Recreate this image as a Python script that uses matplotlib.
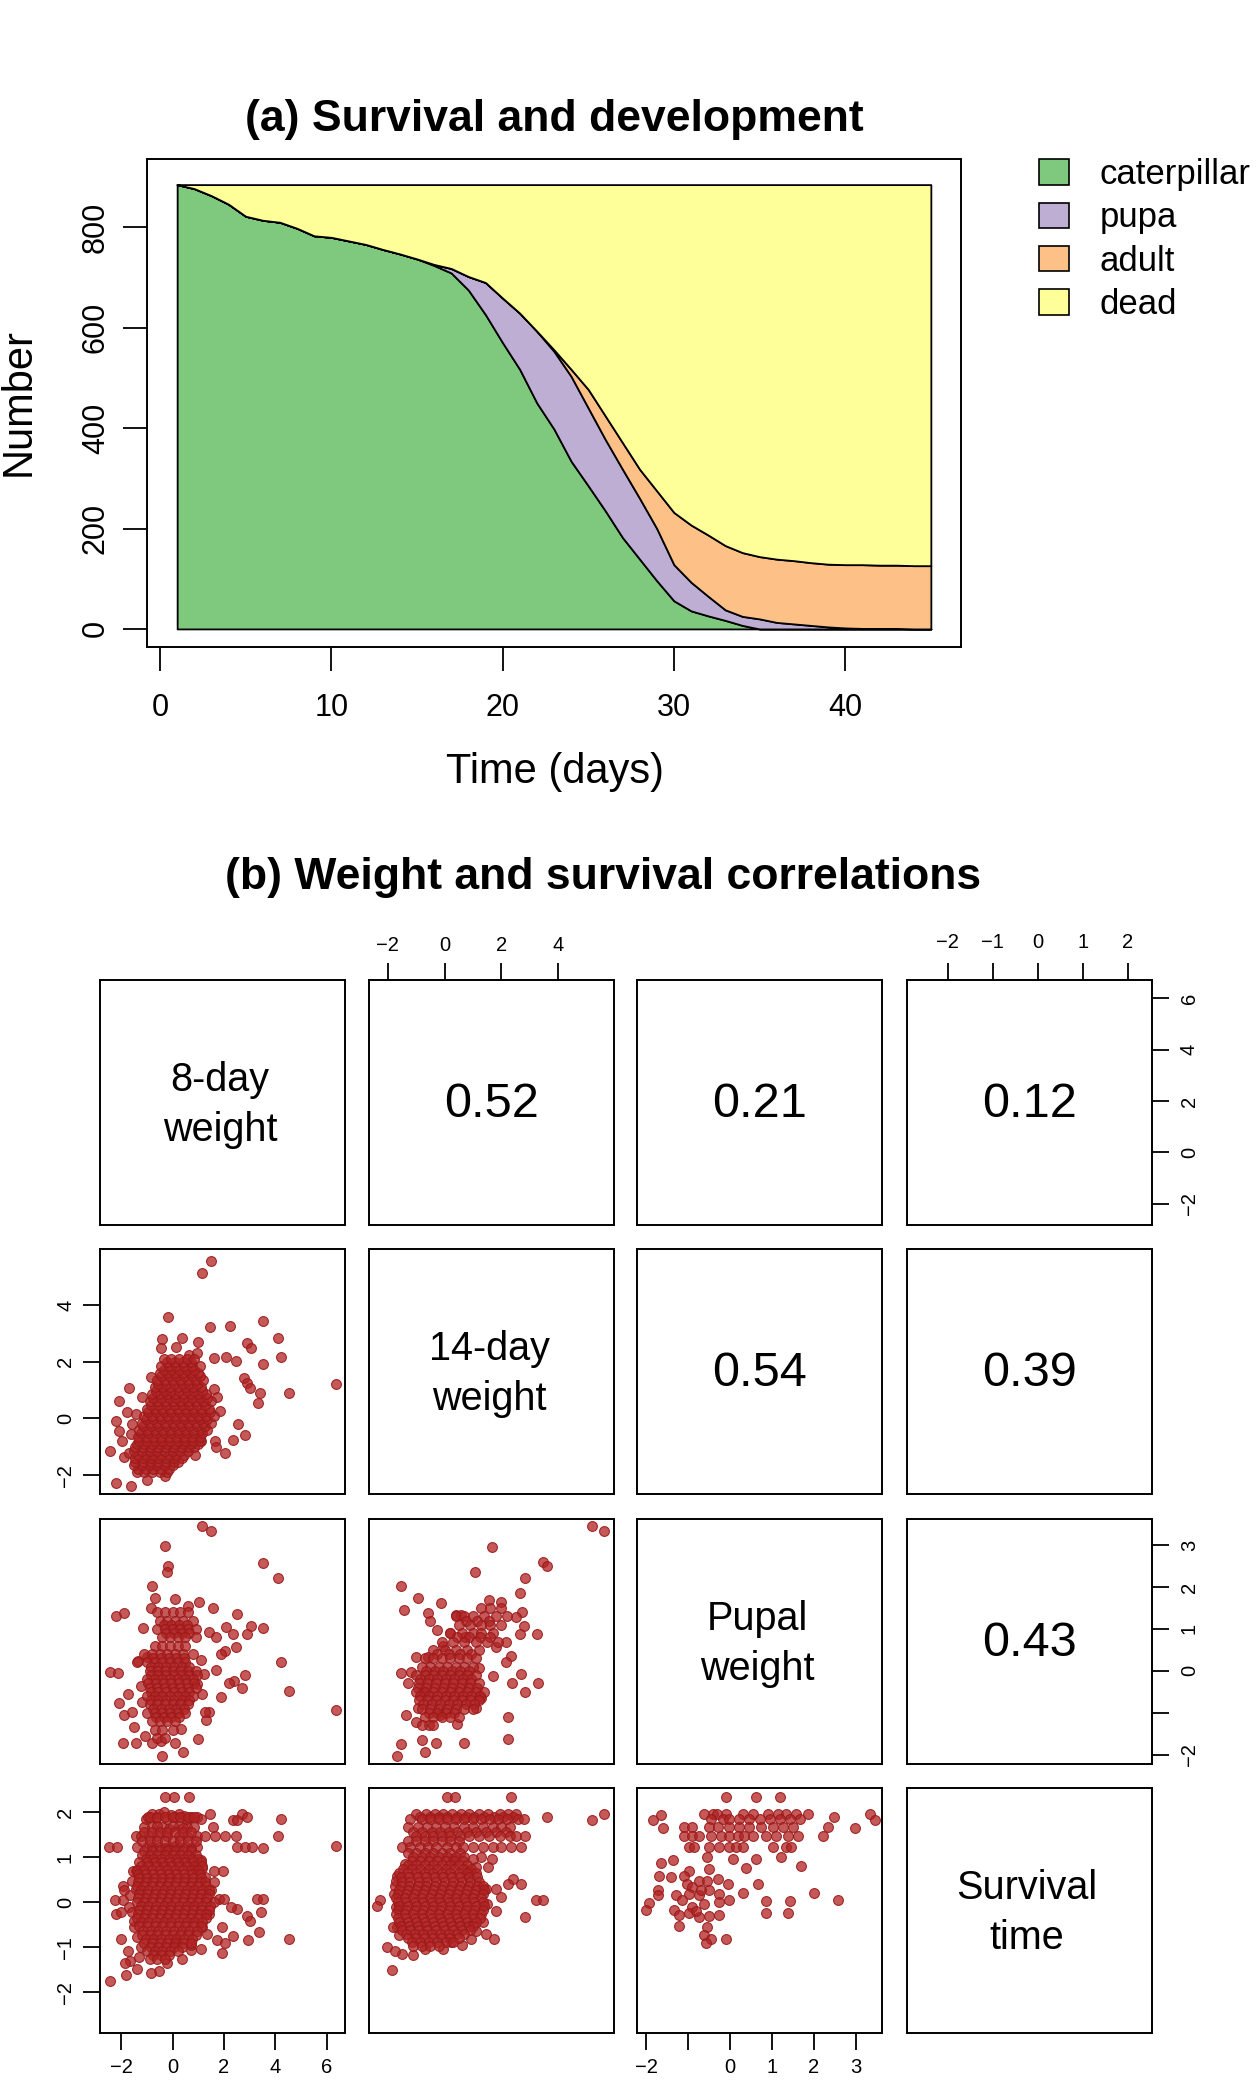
import numpy as np
import matplotlib
matplotlib.use('Agg')
import matplotlib.pyplot as plt
from matplotlib.patches import Patch

plt.rcParams['font.family'] = ['Liberation Sans', 'DejaVu Sans']

# ---------------- (a) survival and development ----------------
days = np.arange(1, 46)
caterpillar = [885, 877, 863, 846, 822, 814, 810, 798, 783, 780, 773, 766, 756, 747, 737,
               724, 709, 675, 626, 570, 517, 450, 398, 334, 285, 235, 182, 139, 96, 56,
               36, 26, 17, 7, 0, 0, 0, 0, 0, 0, 0, 0, 0, 0, 0]
pupa = [0] * 15 + [2, 9, 27, 64, 89, 112, 143, 155, 169, 155, 142, 136, 121, 104, 72,
                   57, 39, 21, 18, 20, 13, 10, 7, 4, 2, 1, 1, 1, 0, 0]
adult = [0] * 22 + [3, 14, 37, 47, 53, 58, 75, 104, 114, 122, 128, 127, 124, 126, 126,
                    125, 125, 126, 127, 126, 126, 126, 126]
total = 885
dead = total - np.array(caterpillar) - np.array(pupa) - np.array(adult)

stages = ['caterpillar', 'pupa', 'adult', 'dead']
stage_cols = ['#7FC97F', '#BEAED4', '#FDC086', '#FFFF99']

# ---------------- (b) pairs plot ----------------
var_names = ['8-day\nweight', '14-day\nweight', 'Pupal\nweight', 'Survival\ntime']
var_lims = [(-2.83, 6.72), (-2.66, 5.97), (-2.22, 3.62), (-2.91, 2.54)]
var_ticks = [[-2, 0, 2, 4, 6], [-2, 0, 2, 4], [-2, -1, 0, 1, 2, 3], [-2, -1, 0, 1, 2]]
var_ticklabels = [['\u22122', '0', '2', '4', '6'], ['\u22122', '0', '2', '4'],
                  ['\u22122', '', '0', '1', '2', '3'], ['\u22122', '\u22121', '0', '1', '2']]
corr_text = {(0, 1): '0.52', (0, 2): '0.21', (0, 3): '0.12',
             (1, 2): '0.54', (1, 3): '0.39', (2, 3): '0.43'}

# 14-day weight vs 8-day weight
p21_pts = [(1.48, 5.55), (1.15, 5.11), (-0.16, 3.57), (1.44, 3.22), (2.22, 3.26), (3.53, 3.44),
           (4.11, 2.82), (4.24, 2.15), (3.51, 1.93), (6.37, 1.20), (4.54, 0.91), (3.33, 0.53),
           (2.91, 2.65), (3.07, 2.47), (-0.43, 2.79), (0.38, 2.85), (0.99, 2.71), (-1.71, 1.06),
           (-2.10, 0.62), (-1.76, 0.23), (-2.19, -0.08), (-2.09, -0.45), (-2.44, -1.15),
           (-2.22, -2.26), (-1.63, -2.37), (-1.01, -2.17), (-0.31, -2.01), (2.04, -1.20),
           (2.81, -0.58), (2.36, -0.75), (2.53, -0.20), (3.40, 0.91), (2.78, 1.43), (2.48, 2.01),
           (2.09, 2.15), (1.61, 2.13), (-0.86, 1.46), (-1.18, 0.77), (-1.57, -0.20), (-1.96, -0.78),
           (-1.89, -1.36), (-0.47, 2.47), (0.12, 2.53), (0.64, 2.24), (0.96, 2.30), (1.67, -0.78),
           (1.71, -1.01), (0.89, -1.30), (1.09, -0.78), (2.91, 1.25), (3.03, 1.08),
           (-1.44, 0.15), (-1.62, -0.55), (-1.7, -1.2), (1.85, 0.25), (1.75, 0.75), (1.6, 1.05)]
p21_core = [(-1.9, [-1.4, -1.1, -0.8, -0.5, -0.2]),
            (-1.78, [-1.35, -1.05, -0.75, -0.45, -0.15]),
            (-1.65, [-1.5, -1.2, -0.9, -0.6, -0.3, 0.0]),
            (-1.52, [-1.45, -1.15, -0.85, -0.55, -0.25, 0.05, 0.2]),
            (-1.4, [-1.45, -1.15, -0.85, -0.55, -0.25, 0.05, 0.35]),
            (-1.28, [-1.35, -1.05, -0.75, -0.45, -0.15, 0.15, 0.45]),
            (-1.15, [-1.5, -1.2, -0.9, -0.6, -0.3, 0.0, 0.3, 0.6]),
            (-1.02, [-1.45, -1.15, -0.85, -0.55, -0.25, 0.05, 0.35, 0.65, 0.85]),
            (-0.9, [-1.4, -1.1, -0.8, -0.5, -0.2, 0.1, 0.4, 0.7, 1.0]),
            (-0.78, [-1.3, -1.0, -0.7, -0.4, -0.1, 0.2, 0.5, 0.8, 1.05]),
            (-0.65, [-1.35, -1.05, -0.75, -0.45, -0.15, 0.15, 0.45, 0.75, 1.05]),
            (-0.52, [-1.25, -0.95, -0.65, -0.35, -0.05, 0.25, 0.55, 0.85, 1.15]),
            (-0.4, [-1.3, -1.0, -0.7, -0.4, -0.1, 0.2, 0.5, 0.8, 1.1, 1.35]),
            (-0.28, [-1.15, -0.85, -0.55, -0.25, 0.05, 0.35, 0.65, 0.95, 1.25]),
            (-0.15, [-1.2, -0.9, -0.6, -0.3, 0.0, 0.3, 0.6, 0.9, 1.2, 1.5]),
            (-0.02, [-1.05, -0.75, -0.45, -0.15, 0.15, 0.45, 0.75, 1.05, 1.35]),
            (0.1, [-1.1, -0.8, -0.5, -0.2, 0.1, 0.4, 0.7, 1.0, 1.3, 1.6]),
            (0.22, [-0.95, -0.65, -0.35, -0.05, 0.25, 0.55, 0.85, 1.15, 1.45]),
            (0.35, [-1.0, -0.7, -0.4, -0.1, 0.2, 0.5, 0.8, 1.1, 1.4]),
            (0.48, [-0.85, -0.55, -0.25, 0.05, 0.35, 0.65, 0.95, 1.25]),
            (0.6, [-0.9, -0.6, -0.3, 0.0, 0.3, 0.6, 0.9, 1.2, 1.5]),
            (0.72, [-0.75, -0.45, -0.15, 0.15, 0.45, 0.75, 1.05, 1.35]),
            (0.85, [-0.8, -0.5, -0.2, 0.1, 0.4, 0.7, 1.0, 1.3]),
            (0.98, [-0.65, -0.35, -0.05, 0.25, 0.55, 0.85, 1.15]),
            (1.1, [-0.7, -0.4, -0.1, 0.2, 0.5, 0.8, 1.1]),
            (1.22, [-0.55, -0.25, 0.05, 0.35, 0.65, 0.95]),
            (1.35, [-0.6, -0.3, 0.0, 0.3, 0.6, 0.9, 1.2]),
            (1.48, [-0.45, -0.15, 0.15, 0.45, 0.75, 1.05]),
            (1.6, [-0.5, -0.2, 0.1, 0.4, 0.7, 1.0]),
            (1.72, [-0.35, -0.05, 0.25, 0.55, 0.85]),
            (1.85, [-0.45, -0.15, 0.15, 0.45, 0.75, 1.05]),
            (1.98, [-0.2, 0.1, 0.4, 0.7]),
            (2.1, [-0.35, -0.05, 0.25, 0.55, 0.85])]

# pupal weight vs 8-day weight
p31_pts = [(1.13, 3.45), (1.48, 3.33), (-0.29, 2.98), (-0.16, 2.50), (-0.21, 2.35), (3.51, 2.58),
           (4.11, 2.21), (-0.79, 2.03), (-0.69, 1.73), (0.08, 1.71), (0.60, 1.55), (1.02, 1.65),
           (1.58, 1.50), (2.52, 1.35), (-2.20, 1.30), (-1.89, 1.38), (-0.86, 1.49), (2.10, 1.05),
           (3.06, 1.07), (3.51, 1.01), (2.91, 0.87), (2.35, 0.87), (1.43, 0.92), (1.71, 0.81),
           (-1.17, 1.03), (2.48, 0.56), (2.06, 0.48), (1.87, 0.40), (4.23, 0.22), (-2.43, -0.02),
           (-2.13, -0.06), (-1.34, 0.24), (1.69, 0.02), (2.84, -0.11), (2.41, -0.23), (2.19, -0.28),
           (2.71, -0.40), (4.53, -0.48), (6.37, -0.93), (-1.75, -0.56), (-2.09, -0.76), (1.87, -0.62),
           (1.41, -0.97), (1.32, -1.17), (-1.89, -1.06), (-1.57, -0.97), (-1.50, -1.34),
           (-1.09, -1.55), (-1.95, -1.73), (-1.44, -1.73), (-0.79, -1.73), (-0.47, -1.67),
           (-0.40, -2.03), (0.09, -1.73), (0.42, -1.93), (0.99, -1.63), (0.34, -1.39), (1.28, -0.97),
           (-1.37, 0.20), (-0.99, 0.32), (1.22, -0.08), (0.96, -0.32),
           (-1.25, -0.35), (-1.2, -0.75), (1.15, -0.55), (1.1, 0.25)]
p31_core = [(1.4, [-0.6, -0.3, 0.0, 0.3, 0.6]),
            (1.2, [-0.5, -0.2, 0.1, 0.4, 0.8]),
            (1.1, [-0.35, -0.05, 0.25, 0.55]),
            (1.0, [-0.6, -0.3, 0.0, 0.3, 0.6, 0.9]),
            (0.9, [-0.25, 0.05, 0.35, 0.65]),
            (0.8, [-0.4, -0.1, 0.2, 0.5, 0.9]),
            (0.6, [-0.7, -0.4, -0.1, 0.2, 0.5]),
            (0.4, [-1.1, -0.8, -0.5, -0.2, 0.1, 0.4, 0.8]),
            (0.3, [-0.75, -0.45, -0.15, 0.15, 0.45]),
            (0.2, [-1.0, -0.7, -0.4, -0.1, 0.2, 0.5]),
            (0.1, [-0.85, -0.55, -0.25, 0.05, 0.35, 0.65]),
            (0.0, [-0.9, -0.6, -0.3, 0.0, 0.3, 0.6, 0.9]),
            (-0.1, [-0.85, -0.55, -0.25, 0.05, 0.35, 0.65, 0.95]),
            (-0.2, [-1.0, -0.7, -0.4, -0.1, 0.2, 0.5, 0.8]),
            (-0.3, [-0.95, -0.65, -0.35, -0.05, 0.25, 0.55, 0.85]),
            (-0.4, [-0.9, -0.6, -0.3, 0.0, 0.3, 0.6, 0.9]),
            (-0.5, [-0.85, -0.55, -0.25, 0.05, 0.35, 0.65]),
            (-0.6, [-1.0, -0.7, -0.4, -0.1, 0.2, 0.5, 0.8]),
            (-0.7, [-0.85, -0.55, -0.25, 0.05, 0.35, 0.65]),
            (-0.8, [-0.9, -0.6, -0.3, 0.0, 0.3, 0.6]),
            (-0.9, [-0.75, -0.45, -0.15, 0.15, 0.45]),
            (-1.0, [-1.0, -0.7, -0.4, -0.1, 0.2, 0.5]),
            (-1.1, [-0.65, -0.35, -0.05, 0.25]),
            (-1.2, [-0.8, -0.5, -0.2, 0.1]),
            (-1.4, [-0.7, -0.4, 0.0]),
            (-1.6, [-0.6, -0.3])]

# pupal weight vs 14-day weight
p32_pts = [(5.18, 3.46), (5.62, 3.33), (1.67, 2.96), (3.46, 2.59), (3.60, 2.50), (1.07, 2.35),
           (2.85, 2.22), (-1.55, 2.03), (-0.93, 1.73), (-1.43, 1.45), (-0.13, 1.61), (2.67, 1.85),
           (1.58, 1.69), (2.00, 1.65), (-0.58, 1.39), (-0.50, 1.18), (0.41, 1.32), (0.59, 1.32),
           (2.72, 1.41), (2.52, 1.29), (2.81, 1.08), (2.67, 0.87), (3.26, 0.89), (-0.26, 0.98),
           (0.18, 0.90), (0.72, 0.81), (2.17, 0.68), (-0.05, 0.60), (1.82, 0.56), (2.35, 0.35),
           (2.17, 0.20), (-0.99, 0.32), (-0.58, 0.32), (-1.52, -0.06), (-1.17, -0.02),
           (-1.28, -0.28), (2.70, -0.08), (2.38, -0.30), (3.30, -0.28), (2.85, -0.51), (1.70, -0.12),
           (1.23, 0.08), (-0.75, -0.48), (-0.93, -0.89), (-1.34, -1.06), (-1.01, -1.23),
           (-0.55, -1.29), (-0.80, -1.65), (-0.67, -1.93), (-0.31, -1.73), (-1.55, -1.75),
           (-1.66, -2.03), (0.69, -1.73), (2.23, -1.11), (2.23, -1.63), (0.44, -1.26),
           (-0.17, -1.05), (1.12, -0.89), (1.29, -0.64)]
p32_core = [(1.5, [1.3, 1.6, 2.0]),
            (1.3, [0.4, 0.7, 1.0, 1.4, 1.8, 2.2]),
            (1.2, [0.75, 1.15, 1.55]),
            (1.1, [0.5, 0.9, 1.3, 1.6, 2.0]),
            (0.9, [0.2, 0.6, 1.0, 1.3, 1.7]),
            (0.8, [0.45, 0.85, 1.25, 1.6]),
            (0.7, [-0.1, 0.3, 0.7, 1.1, 1.5, 1.9]),
            (0.5, [-0.4, 0.0, 0.4, 0.8, 1.2]),
            (0.4, [-0.25, 0.15, 0.55, 0.95]),
            (0.3, [-0.7, -0.4, -0.1, 0.2, 0.5, 0.8, 1.1]),
            (0.1, [-0.8, -0.5, -0.2, 0.1, 0.4, 0.7, 1.0]),
            (0.0, [-0.65, -0.35, -0.05, 0.25, 0.55, 0.85]),
            (-0.1, [-1.0, -0.7, -0.4, -0.1, 0.2, 0.5, 0.8, 1.1]),
            (-0.2, [-0.85, -0.55, -0.25, 0.05, 0.35, 0.65, 0.95]),
            (-0.3, [-0.9, -0.6, -0.3, 0.0, 0.3, 0.6, 0.9, 1.2]),
            (-0.4, [-0.95, -0.65, -0.35, -0.05, 0.25, 0.55, 0.85, 1.15]),
            (-0.5, [-1.0, -0.7, -0.4, -0.1, 0.2, 0.5, 0.8, 1.1, 1.4]),
            (-0.6, [-0.85, -0.55, -0.25, 0.05, 0.35, 0.65, 0.95, 1.25]),
            (-0.7, [-0.9, -0.6, -0.3, 0.0, 0.3, 0.6, 0.9, 1.2]),
            (-0.8, [-0.75, -0.45, -0.15, 0.15, 0.45, 0.75, 1.05]),
            (-0.9, [-0.8, -0.5, -0.2, 0.1, 0.4, 0.7, 1.0]),
            (-1.0, [-0.55, -0.25, 0.05, 0.35]),
            (-1.1, [-0.7, -0.4, -0.1, 0.2, 0.5]),
            (-1.3, [-0.8, -0.4])]

# survival time vs 8-day weight
p41_pts = [(-0.29, 2.35), (0.05, 2.35), (0.64, 2.35),
           (-1.05, 1.85), (-0.79, 1.96), (-0.53, 1.96), (-0.34, 2.0), (-0.08, 1.93), (0.25, 1.96),
           (0.70, 1.89), (0.96, 1.89), (1.09, 1.85), (1.45, 1.96), (2.36, 1.82), (2.52, 1.82),
           (2.72, 1.96), (2.91, 1.89), (4.23, 1.85), (-0.95, 1.9), (-0.65, 1.88), (-0.2, 1.86),
           (0.1, 1.9), (0.45, 1.92), (0.55, 1.85),
           (-1.12, 1.67), (-0.79, 1.67), (-0.40, 1.67), (-0.14, 1.63), (0.25, 1.70), (0.57, 1.67),
           (0.83, 1.67), (1.58, 1.67), (-0.6, 1.7), (0.0, 1.7), (0.4, 1.65),
           (-1.44, 1.48), (-1.25, 1.48), (-0.92, 1.48), (-0.6, 1.48), (-0.21, 1.48), (0.25, 1.48),
           (0.57, 1.48), (0.96, 1.48), (1.28, 1.48), (1.67, 1.48), (2.06, 1.48), (2.49, 1.48),
           (4.11, 1.48),
           (-2.48, 1.22), (-2.15, 1.22), (-1.37, 1.22), (-0.79, 1.22), (-0.53, 1.22), (-0.14, 1.22),
           (0.25, 1.22), (0.51, 1.22), (0.96, 1.22), (2.52, 1.22), (2.84, 1.22), (3.10, 1.22),
           (3.51, 1.2), (6.37, 1.25), (-1.0, 1.22), (-0.3, 1.2), (0.1, 1.24), (0.7, 1.2),
           (1.13, 0.76), (0.89, 0.76), (1.97, 0.69), (1.63, 0.44), (1.80, 0.07), (2.00, 0.07),
           (3.29, 0.06), (3.53, 0.06), (3.45, -0.22), (2.52, -0.15), (2.91, -0.30), (3.03, -0.41),
           (3.36, -0.67), (4.53, -0.81), (2.93, -0.85), (2.35, -0.76), (1.74, -0.85), (1.93, -1.13),
           (2.06, -0.91), (1.35, -0.70), (1.09, -1.04), (0.70, -1.07), (0.38, -1.26), (0.16, -0.89),
           (-0.23, -1.36), (-0.53, -1.53), (-0.86, -1.58), (-1.37, -1.48), (-1.31, -1.22),
           (-1.66, -1.30), (-1.85, -1.36), (-1.83, -1.63), (-2.45, -1.76), (-2.00, -0.81),
           (-1.74, -1.09), (-1.93, 0.35), (-1.89, 0.26), (-2.24, 0.05), (-1.92, 0.04),
           (-2.22, -0.27), (-2.02, -0.22), (-1.70, -0.11), (-1.57, -0.22), (-1.50, -0.56),
           (-1.44, 0.70), (-1.44, 0.30), (1.61, 0.70), (2.26, -0.11), (1.93, -0.56),
           (-1.53, 0.70), (-1.57, 0.48), (-1.66, 0.15), (-1.50, -0.41), (-1.37, -0.78),
           (-1.25, -1.0), (0.70, -0.96), (1.15, -0.56), (1.41, -0.26), (1.48, 0.26), (1.28, 0.56),
           (1.09, 0.93)]
p41_core = [(1.9, [-0.9, -0.6, -0.3, 0.0, 0.3, 0.6, 0.85]),
            (1.57, [-1.1, -0.8, -0.5, -0.2, 0.1, 0.4, 0.7]),
            (1.35, [-1.2, -0.9, -0.6, -0.3, 0.0, 0.3, 0.6, 0.9]),
            (1.13, [-1.1, -0.8, -0.5, -0.2, 0.1, 0.4, 0.7]),
            (1.05, [-1.2, -0.9, -0.6, -0.3, 0.0, 0.3, 0.6, 0.9]),
            (0.97, [-1.05, -0.75, -0.45, -0.15, 0.15, 0.45, 0.75, 1.0]),
            (0.9, [-1.3, -1.0, -0.7, -0.4, -0.1, 0.2, 0.5, 0.8, 1.1]),
            (0.81, [-1.25, -0.95, -0.65, -0.35, -0.05, 0.25, 0.55, 0.85, 1.15]),
            (0.72, [-1.4, -1.1, -0.8, -0.5, -0.2, 0.1, 0.4, 0.7, 1.0]),
            (0.63, [-1.35, -1.05, -0.75, -0.45, -0.15, 0.15, 0.45, 0.75, 1.05]),
            (0.54, [-1.3, -1.0, -0.7, -0.4, -0.1, 0.2, 0.5, 0.8, 1.1]),
            (0.45, [-1.35, -1.05, -0.75, -0.45, -0.15, 0.15, 0.45, 0.75, 1.05, 1.25]),
            (0.36, [-1.4, -1.1, -0.8, -0.5, -0.2, 0.1, 0.4, 0.7, 1.0, 1.3]),
            (0.27, [-1.25, -0.95, -0.65, -0.35, -0.05, 0.25, 0.55, 0.85, 1.15, 1.4]),
            (0.18, [-1.3, -1.0, -0.7, -0.4, -0.1, 0.2, 0.5, 0.8, 1.1, 1.4]),
            (0.09, [-1.35, -1.05, -0.75, -0.45, -0.15, 0.15, 0.45, 0.75, 1.05, 1.35]),
            (0.0, [-1.4, -1.1, -0.8, -0.5, -0.2, 0.1, 0.4, 0.7, 1.0, 1.3, 1.6]),
            (-0.09, [-1.25, -0.95, -0.65, -0.35, -0.05, 0.25, 0.55, 0.85, 1.15, 1.45]),
            (-0.18, [-1.3, -1.0, -0.7, -0.4, -0.1, 0.2, 0.5, 0.8, 1.1, 1.4]),
            (-0.27, [-1.35, -1.05, -0.75, -0.45, -0.15, 0.15, 0.45, 0.75, 1.05, 1.3]),
            (-0.36, [-1.4, -1.1, -0.8, -0.5, -0.2, 0.1, 0.4, 0.7, 1.0, 1.3]),
            (-0.45, [-1.25, -0.95, -0.65, -0.35, -0.05, 0.25, 0.55, 0.85, 1.15]),
            (-0.54, [-1.3, -1.0, -0.7, -0.4, -0.1, 0.2, 0.5, 0.8, 1.1]),
            (-0.63, [-1.15, -0.85, -0.55, -0.25, 0.05, 0.35, 0.65, 0.95]),
            (-0.72, [-1.2, -0.9, -0.6, -0.3, 0.0, 0.3, 0.6, 0.9]),
            (-0.81, [-1.05, -0.75, -0.45, -0.15, 0.15, 0.45, 0.75]),
            (-0.9, [-1.1, -0.8, -0.5, -0.2, 0.1, 0.4, 0.7]),
            (-0.99, [-0.85, -0.55, -0.25, 0.05, 0.35]),
            (-1.08, [-1.0, -0.7, -0.4, -0.1, 0.2]),
            (-1.17, [-0.75, -0.45, -0.15]),
            (-1.26, [-0.9, -0.6, -0.3])]

# survival time vs 14-day weight
p42_pts = [(0.09, 2.35), (0.36, 2.35), (2.35, 2.33), (3.61, 1.89), (5.18, 1.83), (5.62, 1.96),
           (0.30, 0.96), (1.29, 1.00), (1.68, 0.96), (1.53, 0.79), (1.12, 0.78), (0.88, 0.69),
           (2.40, 0.52), (2.25, 0.41), (2.70, 0.41), (3.22, 0.04), (3.46, 0.05), (2.85, -0.32),
           (1.82, 0.30), (2.00, 0.11), (1.82, -0.19), (-1.67, 0.59), (-1.75, 0.37), (-2.27, 0.04),
           (-2.37, -0.09), (1.47, -0.70), (1.76, -0.81), (0.94, -0.81), (0.24, -0.89),
           (-0.05, -1.04), (-1.10, -1.17), (-1.51, -1.15), (-2.04, -0.99), (-1.75, -1.09),
           (-1.86, -1.50), (-1.69, -0.56),
           (-1.71, 0.48), (-1.78, 0.19), (-1.71, -0.11), (-1.81, -0.56), (-1.6, -0.74),
           (1.45, 0.3), (1.5, -0.05), (1.35, -0.45), (1.1, -0.65), (0.6, -0.95), (-0.7, -1.05),
           (1.0, 0.95), (-1.4, 0.85)]
p42_core = [(1.96, [-0.99, -0.64, -0.35, -0.05, 0.25, 0.59, 0.88, 1.23, 1.53, 1.94, 2.23, 2.52]),
            (1.9, [-0.85, -0.5, -0.2, 0.1, 0.45, 0.75, 1.05, 1.4, 1.75, 2.05, 2.4]),
            (1.85, [-1.2, -0.8, -0.5, -0.2, 0.1, 0.4, 0.7, 1.0, 1.3, 1.6, 1.9, 2.2, 2.6, 2.8]),
            (1.67, [-1.28, -0.95, -0.6, -0.3, 0.0, 0.35, 0.7, 1.0, 1.35, 1.7, 2.0, 2.3]),
            (1.57, [-1.1, -0.8, -0.45, -0.15, 0.15, 0.45, 0.8, 1.1, 1.45, 1.8, 2.15]),
            (1.48, [-1.0, -0.7, -0.4, -0.1, 0.2, 0.53, 0.88, 1.23, 1.58, 1.94, 2.29, 2.52, 2.84]),
            (1.35, [-1.3, -1.0, -0.7, -0.4, -0.1, 0.2, 0.5]),
            (1.22, [-1.51, -1.22, -0.87, -0.58, -0.29, 0.07, 0.42, 0.65, 1.00, 1.35, 1.70, 1.99,
                    2.35, 2.70]),
            (1.1, [-1.3, -1.0, -0.7, -0.4, -0.1, 0.2, 0.55]),
            (1.0, [-1.1, -0.8, -0.5, -0.2, 0.1, 0.4, 0.7]),
            (0.91, [-1.15, -0.85, -0.55, -0.25, 0.05, 0.35, 0.65]),
            (0.82, [-1.3, -1.0, -0.7, -0.4, -0.1, 0.2, 0.5, 0.8]),
            (0.73, [-1.45, -1.15, -0.85, -0.55, -0.25, 0.05, 0.35, 0.65, 0.95]),
            (0.64, [-1.6, -1.3, -1.0, -0.7, -0.4, -0.1, 0.2, 0.5, 0.8, 1.1]),
            (0.55, [-1.55, -1.25, -0.95, -0.65, -0.35, -0.05, 0.25, 0.55, 0.85, 1.15]),
            (0.46, [-1.5, -1.2, -0.9, -0.6, -0.3, 0.0, 0.3, 0.6, 0.9, 1.2]),
            (0.37, [-1.55, -1.25, -0.95, -0.65, -0.35, -0.05, 0.25, 0.55, 0.85, 1.15, 1.35]),
            (0.28, [-1.6, -1.3, -1.0, -0.7, -0.4, -0.1, 0.2, 0.5, 0.8, 1.1, 1.4]),
            (0.19, [-1.65, -1.35, -1.05, -0.75, -0.45, -0.15, 0.15, 0.45, 0.75, 1.05, 1.35]),
            (0.1, [-1.7, -1.4, -1.1, -0.8, -0.5, -0.2, 0.1, 0.4, 0.7, 1.0, 1.3]),
            (0.01, [-1.65, -1.35, -1.05, -0.75, -0.45, -0.15, 0.15, 0.45, 0.75, 1.05, 1.35]),
            (-0.08, [-1.6, -1.3, -1.0, -0.7, -0.4, -0.1, 0.2, 0.5, 0.8, 1.1, 1.4]),
            (-0.17, [-1.65, -1.35, -1.05, -0.75, -0.45, -0.15, 0.15, 0.45, 0.75, 1.05, 1.35]),
            (-0.26, [-1.7, -1.4, -1.1, -0.8, -0.5, -0.2, 0.1, 0.4, 0.7, 1.0, 1.3]),
            (-0.35, [-1.65, -1.35, -1.05, -0.75, -0.45, -0.15, 0.15, 0.45, 0.75, 1.05, 1.25]),
            (-0.44, [-1.6, -1.3, -1.0, -0.7, -0.4, -0.1, 0.2, 0.5, 0.8, 1.1]),
            (-0.53, [-1.55, -1.25, -0.95, -0.65, -0.35, -0.05, 0.25, 0.55, 0.85, 1.0]),
            (-0.62, [-1.5, -1.2, -0.9, -0.6, -0.3, 0.0, 0.3, 0.6, 0.9]),
            (-0.71, [-1.35, -1.05, -0.75, -0.45, -0.15, 0.15, 0.45, 0.7]),
            (-0.8, [-1.3, -1.0, -0.7, -0.4, -0.1, 0.2, 0.5]),
            (-0.89, [-1.15, -0.85, -0.55, -0.25, 0.05, 0.3]),
            (-0.98, [-1.1, -0.8, -0.5, -0.2])]

# survival time vs pupal weight
p43_pts = [(-0.10, 2.35), (0.62, 2.35), (1.20, 2.35), (-1.83, 1.83), (-1.65, 1.93), (-1.61, 1.64),
           (2.48, 1.89), (3.33, 1.96), (3.46, 1.83), (2.34, 1.67), (2.97, 1.64), (2.21, 1.48),
           (-0.54, 1.00), (0.06, 0.96), (0.61, 0.96), (1.22, 1.01), (1.69, 0.80), (0.38, 0.76),
           (-0.50, 0.74), (-1.37, 0.93), (-1.64, 0.87), (-1.69, 0.58), (-1.41, 0.56), (-0.98, 0.70),
           (-1.10, 0.59), (-1.04, 0.41), (-0.90, 0.33), (-0.74, 0.48), (-0.54, 0.48), (-0.30, 0.52),
           (-0.06, 0.41), (-0.98, 0.19), (-0.74, 0.15), (-0.50, 0.26), (-0.26, 0.19), (-1.71, 0.26),
           (-1.73, 0.15), (-1.93, -0.01), (-2.01, -0.17), (-1.29, 0.15), (-1.14, 0.04),
           (-0.90, -0.11), (-0.62, -0.04), (-0.26, 0.00), (-0.03, 0.05), (0.30, 0.20), (0.66, 0.41),
           (0.86, 0.02), (1.42, 0.02), (2.00, 0.20), (2.58, 0.05), (0.86, -0.24), (1.38, -0.24),
           (-1.33, -0.17), (-1.23, -0.28), (-0.98, -0.24), (-0.75, -0.32), (-0.50, -0.30),
           (-0.27, -0.28), (-1.23, -0.53), (-0.54, -0.56), (-0.62, -0.72), (-0.46, -0.81),
           (-0.58, -0.90), (-0.10, -0.81), (-0.82, -0.19), (-0.70, 0.26)]
p43_core = [(1.96, [-0.62, -0.42, -0.32, -0.10, 0.30, 0.54, 0.90, 1.14, 1.34, 1.58, 1.86]),
            (1.85, [-0.46, -0.18, -0.02, 0.22, 0.46, 0.70, 0.94, 1.18, 1.42, 1.66]),
            (1.67, [-1.11, -0.90, -0.50, -0.30, -0.02, 0.22, 0.46, 0.74, 1.02, 1.26, 1.50]),
            (1.48, [-1.10, -0.90, -0.74, -0.46, -0.22, -0.02, 0.18, 0.34, 0.54, 0.86, 1.10, 1.38,
                    1.62]),
            (1.22, [-0.98, -0.86, -0.50, -0.26, -0.02, 0.14, 0.30, 1.02, 1.34, 1.46])]

lower_panels = {(1, 0): (p21_pts, p21_core), (2, 0): (p31_pts, p31_core),
                (2, 1): (p32_pts, p32_core), (3, 0): (p41_pts, p41_core),
                (3, 1): (p42_pts, p42_core), (3, 2): (p43_pts, p43_core)}


def unpack(pts, core):
    xs = [p[0] for p in pts]
    ys = [p[1] for p in pts]
    for y, row in core:
        xs += row
        ys += [y] * len(row)
    return xs, ys


W, H = 1260, 2081
fig = plt.figure(figsize=(W / 100, H / 100), dpi=100)


def rect(left, top, right, bottom):
    return [left / W, 1 - bottom / H, (right - left) / W, (bottom - top) / H]


# ---- panel (a) ----
ax = fig.add_axes(rect(147, 159, 961, 647))
ax.stackplot(days, caterpillar, pupa, adult, dead, colors=stage_cols,
             edgecolor='black', linewidth=1.3)
ax.set_xlim(-0.76, 46.76)
ax.set_ylim(-36, 936)
ax.set_xticks([0, 10, 20, 30, 40])
ax.set_yticks([0, 200, 400, 600, 800])
ax.tick_params(labelsize=22, length=17, width=1.3)
ax.tick_params(axis='x', pad=16)
ax.tick_params(axis='y', pad=9)
for lab in ax.get_yticklabels():
    lab.set_rotation(90)
    lab.set_va('center')
for s in ax.spines.values():
    s.set_linewidth(1.4)
fig.text(554 / W, 1 - 119 / H, '(a) Survival and development', ha='center', va='center',
         fontsize=32, fontweight='bold')
fig.text(19 / W, 1 - 402 / H, 'Number', rotation=90, ha='center', va='center', fontsize=30)
fig.text(555 / W, 1 - 772 / H, 'Time (days)', ha='center', va='center', fontsize=30)

handles = [Patch(facecolor=c, edgecolor='black', linewidth=1.2) for c in stage_cols]
fig.legend(handles, stages, loc='upper left', bbox_to_anchor=(1039 / W, 1 - 158 / H),
           frameon=False, fontsize=25, handlelength=0.85, handleheight=0.75,
           handletextpad=0.9, labelspacing=0.3, borderpad=0, borderaxespad=0)

# ---- panel (b) ----
fig.text(603 / W, 1 - 878 / H, '(b) Weight and survival correlations', ha='center',
         va='center', fontsize=32, fontweight='bold')

col_left = [100, 369, 637, 907]
row_top = [980, 1249, 1519, 1788]
size = 245
pt_face = (0.698, 0.133, 0.133, 0.75)
pt_edge = (0.6, 0.1, 0.1, 0.9)

for i in range(4):
    for j in range(4):
        a = fig.add_axes(rect(col_left[j], row_top[i], col_left[j] + size, row_top[i] + size))
        a.set_xlim(var_lims[j])
        a.set_ylim(var_lims[i])
        for s in a.spines.values():
            s.set_linewidth(1.4)
        a.tick_params(length=12, width=1.3, labelsize=14.5, pad=6,
                      bottom=False, top=False, left=False, right=False,
                      labelbottom=False, labeltop=False, labelleft=False, labelright=False)
        a.set_xticks(var_ticks[j])
        a.set_xticklabels(var_ticklabels[j])
        a.set_yticks(var_ticks[i])
        a.set_yticklabels(var_ticklabels[i])

        if i == j:
            a.text(0.49, 0.49, var_names[i], transform=a.transAxes, ha='center', va='center',
                   fontsize=28.5, linespacing=1.4)
        elif i < j:
            a.text(0.5, 0.49, corr_text[(i, j)], transform=a.transAxes, ha='center',
                   va='center', fontsize=35)
        else:
            xs, ys = unpack(*lower_panels[(i, j)])
            a.scatter(xs, ys, s=50, facecolor=pt_face, edgecolor=pt_edge, linewidths=0.8)

        # R pairs() axis placement
        if i == 0 and j % 2 == 1:
            a.tick_params(top=True, labeltop=True)
        if i == 3 and j % 2 == 0:
            a.tick_params(bottom=True, labelbottom=True)
        if j == 0 and i % 2 == 1:
            a.tick_params(left=True, labelleft=True)
            for t in a.yaxis.get_major_ticks():
                t.label1.set_rotation(90)
                t.label1.set_va('center')
        if j == 3 and i % 2 == 0:
            a.tick_params(right=True, labelright=True, pad=8)
            for t in a.yaxis.get_major_ticks():
                t.label2.set_rotation(90)
                t.label2.set_va('center')

fig.savefig('out.png', dpi=100)
